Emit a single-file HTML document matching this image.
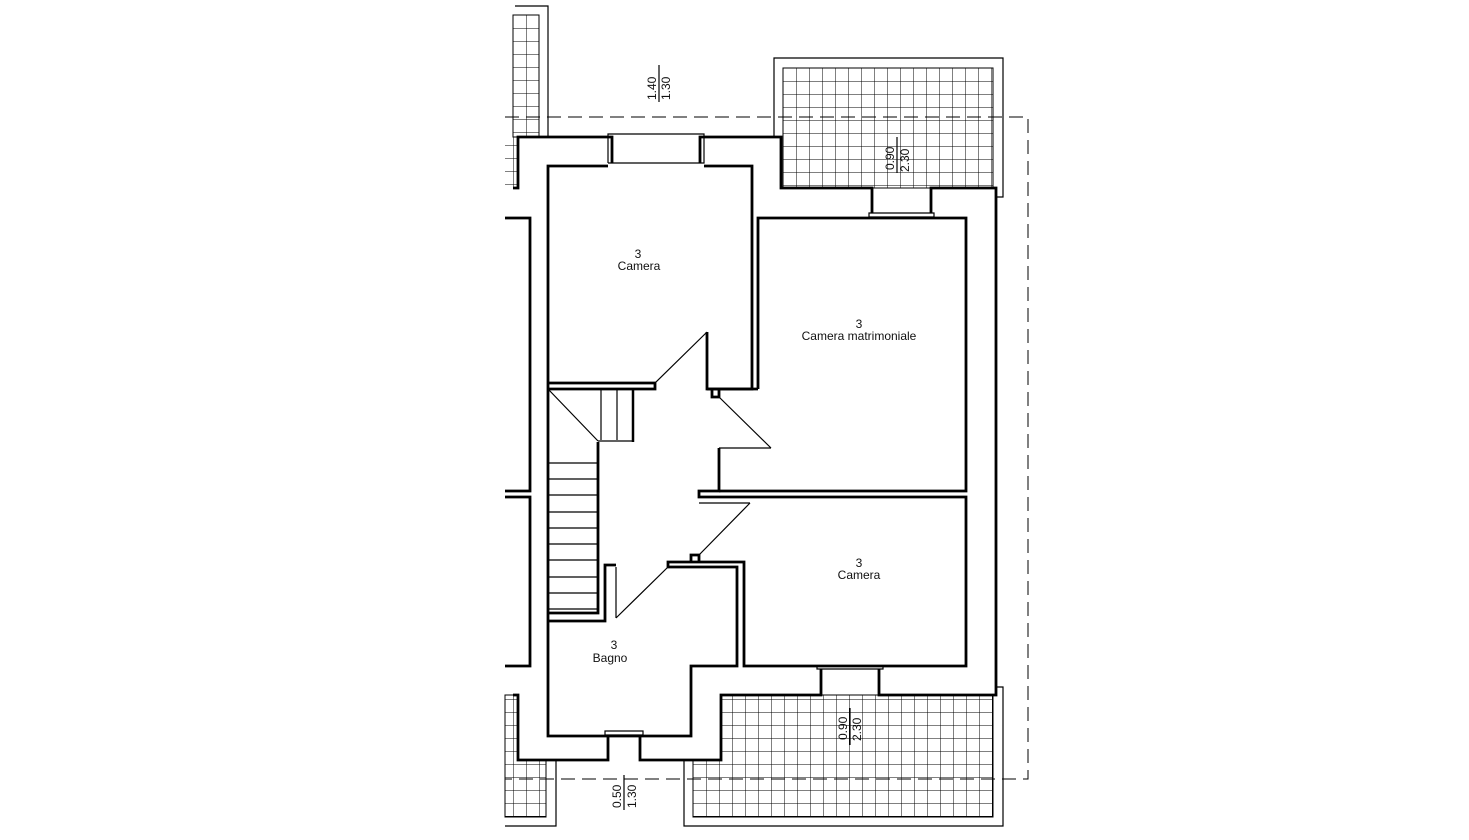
<!DOCTYPE html>
<html><head><meta charset="utf-8"><style>
html,body{margin:0;padding:0;background:#fff}
svg{display:block}
text{font-family:"Liberation Sans",Arial,sans-serif;fill:#111}
</style></head><body>
<svg width="1469" height="840" viewBox="0 0 1469 840" xmlns="http://www.w3.org/2000/svg">
<defs>
<pattern id="g1" patternUnits="userSpaceOnUse" x="513" y="15" width="13" height="13"><path d="M0 0H13M0 0V13" stroke="#000" stroke-width="1" fill="none"/></pattern>
<pattern id="g2" patternUnits="userSpaceOnUse" x="783" y="68" width="13" height="13"><path d="M0 0H13M0 0V13" stroke="#000" stroke-width="1" fill="none"/></pattern>
<pattern id="g3" patternUnits="userSpaceOnUse" x="693" y="699" width="13" height="13"><path d="M0 0H13M0 0V13" stroke="#000" stroke-width="1" fill="none"/></pattern>
<pattern id="g4" patternUnits="userSpaceOnUse" x="513" y="699" width="13" height="13"><path d="M0 0H13M0 0V13" stroke="#000" stroke-width="1" fill="none"/></pattern>
</defs>
<rect width="1469" height="840" fill="#fff"/>

<!-- grids -->
<rect x="513" y="15" width="26" height="122" fill="url(#g1)" stroke="#000"/>
<rect x="505" y="137" width="13" height="51" fill="url(#g1)"/>
<rect x="783" y="68" width="210" height="120" fill="url(#g2)" stroke="#000"/>
<polygon points="721,695 993,695 993,817 693,817 693,760 721,760" fill="url(#g3)" stroke="#000"/>
<polygon points="505,695 518,695 518,760 546,760 546,817 505,817" fill="url(#g4)" stroke="#000"/>

<!-- thin balcony outlines -->
<g fill="none" stroke="#000" stroke-width="1.2">
<polyline points="515,6 548,6 548,137"/>
<polyline points="774,137 774,58 1003,58 1003,197 996,197"/>
<polyline points="684,760 684,826 1003,826 1003,687 996,687"/>
<polyline points="505,826 556,826 556,760"/>
</g>

<!-- dashed -->
<polyline points="505,117 1028,117 1028,779 505,779" fill="none" stroke="#000" stroke-width="1" stroke-dasharray="14,7"/>

<!-- thick walls -->
<g fill="none" stroke="#000" stroke-width="2.8" stroke-linejoin="miter">
<polyline points="513,188 518,188 518,137 612,137 612,163"/>
<polyline points="700,163 700,137 781,137 781,188 872,188 872,213"/>
<polyline points="931,213 931,188 996,188 996,695 879,695 879,669"/>
<polyline points="821,669 821,695 721,695 721,760 640,760 640,735"/>
<polyline points="608,735 608,760 518,760 518,695 513,695"/>
<polyline points="505,218 530,218 530,491 505,491"/>
<polyline points="505,497 530,497 530,666 505,666"/>
<polyline points="608,166 548,166 548,736 691,736 691,666 737,666 737,567 668,567 668,562 744,562 744,666 966,666 966,497 750,497 699,497 699,491 719,491 719,448"/>
<polyline points="704,166 752,166 752,389 707,389 707,332"/>
<polyline points="548,383 655,383 655,389 548,389"/>
<polyline points="758,389 758,218 966,218 966,491 719,491"/>
<line x1="707" y1="389" x2="758" y2="389"/>
<polyline points="712,389 712,397 719,397 719,389"/>
<polyline points="691,562 691,555 699,555 699,562"/>
<polyline points="598,442 598,613 548,613"/>
<polyline points="548,621 605,621 605,565 616,565"/>
</g>

<g stroke="#000" stroke-width="1.2" fill="none">
<line x1="601" y1="389" x2="601" y2="440"/>
<line x1="617" y1="389" x2="617" y2="440"/>
<line x1="633" y1="389" x2="633" y2="442" stroke-width="2.5"/>
<line x1="598" y1="441" x2="633" y2="441"/>
<line x1="548" y1="389" x2="598" y2="441"/>
<line x1="548" y1="463" x2="598" y2="463"/>
<line x1="548" y1="479" x2="598" y2="479"/>
<line x1="548" y1="495" x2="598" y2="495"/>
<line x1="548" y1="512" x2="598" y2="512"/>
<line x1="548" y1="528" x2="598" y2="528"/>
<line x1="548" y1="544" x2="598" y2="544"/>
<line x1="548" y1="560" x2="598" y2="560"/>
<line x1="548" y1="577" x2="598" y2="577"/>
<line x1="548" y1="593" x2="598" y2="593"/>
<line x1="548" y1="609" x2="598" y2="609"/>
<line x1="655" y1="383" x2="707" y2="332"/>
<line x1="719" y1="397" x2="771" y2="448"/>
<line x1="719" y1="448" x2="771" y2="448"/>
<line x1="616" y1="567" x2="616" y2="618"/>
<line x1="616" y1="618" x2="668" y2="567"/>
<line x1="699" y1="555" x2="750" y2="503"/>
<line x1="699" y1="503" x2="750" y2="503"/>
<polyline points="608,163 608,134 704,134 704,163 608,163"/>
<polyline points="869,217 869,213 934,213 934,217 869,217"/>
<polyline points="817,666 817,669 883,669 883,666"/>
<polyline points="605,735 605,731 643,731 643,735 605,735"/>
<line x1="659" y1="65" x2="659" y2="102"/>
<line x1="897" y1="137" x2="897" y2="173"/>
<line x1="850" y1="708" x2="850" y2="745"/>
<line x1="624" y1="775" x2="624" y2="810"/>
</g>

<g font-size="12">
<text transform="translate(656,100) rotate(-90)">1.40</text>
<text transform="translate(670,100) rotate(-90)">1.30</text>
<text transform="translate(894,170) rotate(-90)">0.90</text>
<text transform="translate(909,172) rotate(-90)">2.30</text>
<text transform="translate(847,740) rotate(-90)">0.90</text>
<text transform="translate(861,741) rotate(-90)">2.30</text>
<text transform="translate(621,808) rotate(-90)">0.50</text>
<text transform="translate(636,808) rotate(-90)">1.30</text>
</g>

<g font-size="12" text-anchor="middle">
<text x="638" y="258">3</text><text x="639" y="270">Camera</text>
<text x="859" y="328">3</text><text x="859" y="340">Camera matrimoniale</text>
<text x="859" y="567">3</text><text x="859" y="579">Camera</text>
<text x="614" y="649">3</text><text x="610" y="662">Bagno</text>
</g>
</svg>
</body></html>
